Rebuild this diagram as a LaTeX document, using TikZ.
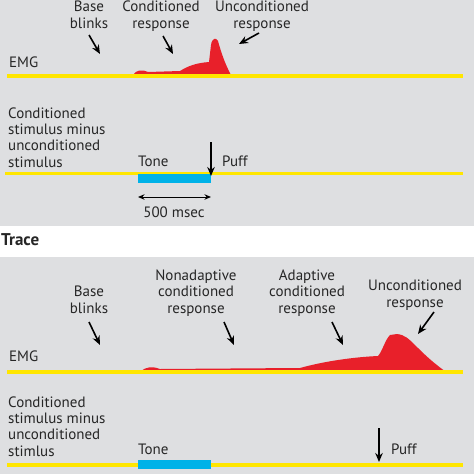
\documentclass[tikz,border=0pt]{standalone}
\usepackage{fontspec}
\setmainfont{PT Sans}
\usetikzlibrary{arrows.meta}
\definecolor{panel}{HTML}{DEDFE1}
\definecolor{trackyellow}{HTML}{FFE600}
\definecolor{toneblue}{HTML}{00B2E8}
\definecolor{respred}{HTML}{E8202A}
\tikzset{
  lbl/.style={font=\fontsize{15}{16.2}\selectfont, align=center, inner sep=0pt, text=black!85},
  lbll/.style={font=\fontsize{15}{16.2}\selectfont, align=left, inner sep=0pt, text=black!85},
  pointer/.style={line width=1.6pt, -{Stealth[length=9pt,width=7.5pt]}},
  track/.style={trackyellow, line width=3.5pt},
  tonebar/.style={fill=toneblue, draw=none},
  resp/.style={fill=respred, draw=none},
}
\begin{document}
\begin{tikzpicture}[x=1pt,y=-1pt]
\useasboundingbox (0,0) rectangle (474,474);
\fill[white] (0,0) rectangle (474,474);
\fill[panel] (0,0) rectangle (474,226);
\fill[panel] (0,257) rectangle (474,474);

% ---------- top panel ----------
\node[lbl, anchor=base] (bb1) at (89,28) {Base\\blinks};
\node[lbl, anchor=base] (cr1) at (161,28) {Conditioned\\response};
\node[lbl, anchor=base] (ur1) at (262,28) {Unconditioned\\response};
\coordinate (bb1t) at (89,35); \coordinate (bb1h) at (100,54);
\coordinate (cr1t) at (163,36); \coordinate (cr1h) at (173,54);
\coordinate (ur1t) at (259,33); \coordinate (ur1h) at (239,44);
\draw[pointer] (bb1t) -- (bb1h);
\draw[pointer] (cr1t) -- (cr1h);
\draw[pointer] (ur1t) -- (ur1h);
\node[lbll, anchor=base west] (emg1) at (9,67) {EMG};
\fill[resp] (133,75) .. controls (136,70) and (142,69) .. (148,72)
  -- (180,71) .. controls (188,66) and (196,63) .. (209,62)
  -- (211,45) .. controls (212,38) and (216,37) .. (218,41)
  .. controls (221,52) and (225,64) .. (231,75) -- cycle;
\draw[track] (7,76) coordinate (e1a) -- (463,76) coordinate (e1b);

\node[lbll, anchor=base west] (cs1) at (8,167) {Conditioned\\stimulus minus\\unconditioned\\stimulus};
\draw[track] (5,173.5) coordinate (s1a) -- (463,173.5) coordinate (s1b);
\fill[tonebar] (138,174) rectangle (211,183);
\node[lbll, anchor=base west] (tone1) at (138,166) {Tone};
\node[lbll, anchor=base west] (puff1) at (222,166) {Puff};
\coordinate (p1t) at (211,142); \coordinate (p1h) at (211,176);
\draw[pointer] (p1t) -- (p1h);
\coordinate (d1a) at (138,197); \coordinate (d1b) at (211,197);
\draw[line width=1pt, {Stealth[length=6.5pt,width=5.5pt]}-{Stealth[length=6.5pt,width=5.5pt]}] (d1a) -- (d1b);
\node[lbl, anchor=base] (ms1) at (174,217) {500 msec};

% ---------- trace ----------
\node[lbll, anchor=base west, font=\fontsize{17}{18}\selectfont\bfseries] (trace) at (1,245) {Trace};

% ---------- bottom panel ----------
\node[lbl, anchor=base] (bb2) at (89,313) {Base\\blinks};
\node[lbl, anchor=base] (na2) at (196,313) {Nonadaptive\\conditioned\\response};
\node[lbl, anchor=base] (ad2) at (307,313) {Adaptive\\conditioned\\response};
\node[lbl, anchor=base] (ur2) at (415,307) {Unconditioned\\response};
\coordinate (bb2t) at (89,322); \coordinate (bb2h) at (100,345);
\coordinate (na2t) at (224,322); \coordinate (na2h) at (234,345);
\coordinate (ad2t) at (332,322); \coordinate (ad2h) at (343,345);
\coordinate (ur2t) at (434,312); \coordinate (ur2h) at (418,334);
\draw[pointer] (bb2t) -- (bb2h);
\draw[pointer] (na2t) -- (na2h);
\draw[pointer] (ad2t) -- (ad2h);
\draw[pointer] (ur2t) -- (ur2h);
\node[lbll, anchor=base west] (emg2) at (9,361) {EMG};
\fill[resp] (141,371) .. controls (146,367) and (152,366) .. (160,369)
  -- (300,368) .. controls (325,361) and (355,357) .. (378,356)
  .. controls (382,352) and (385,340) .. (390,335)
  -- (397,334) .. controls (405,335) and (408,338) .. (418,348)
  .. controls (430,360) and (438,366) .. (446,372) -- cycle;
\draw[track] (7,372) coordinate (e2a) -- (463,372) coordinate (e2b);

\node[lbll, anchor=base west] (cs2) at (8,456) {Conditioned\\stimulus minus\\unconditioned\\stimlus};
\draw[track] (7,465) coordinate (s2a) -- (463,465) coordinate (s2b);
\fill[tonebar] (138,460) rectangle (211,469);
\node[lbll, anchor=base west] (tone2) at (138,454) {Tone};
\node[lbll, anchor=base west] (puff2) at (391,454) {Puff};
\coordinate (p2t) at (379,428); \coordinate (p2h) at (379,462);
\draw[pointer] (p2t) -- (p2h);
\end{tikzpicture}
\end{document}
